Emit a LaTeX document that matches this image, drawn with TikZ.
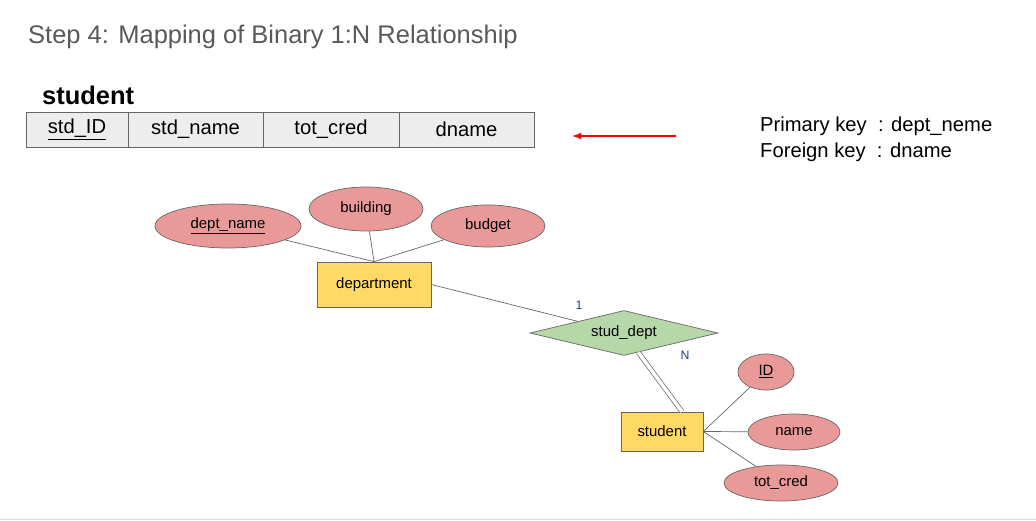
\documentclass[tikz,border=0pt]{standalone}
\usepackage{fontspec}
\setmainfont{Liberation Sans}
\usetikzlibrary{shapes.geometric}
\definecolor{attr}{HTML}{EA9999}
\definecolor{ent}{HTML}{FFD966}
\definecolor{rel}{HTML}{B6D7A8}
\definecolor{edge}{HTML}{666666}
\definecolor{card}{HTML}{1F3A93}
\begin{document}
\begin{tikzpicture}[x=0.02cm,y=-0.02cm,
    attrib/.style={ellipse,draw=edge,fill=attr,inner sep=0pt,font=\fontsize{8.5}{10}\selectfont},
    entity/.style={rectangle,draw=edge,fill=ent,inner sep=0pt,font=\fontsize{8.5}{10}\selectfont},
    relation/.style={diamond,draw=edge,fill=rel,inner sep=0pt,aspect=4.2,font=\fontsize{8.5}{10}\selectfont},
    cell/.style={rectangle,draw=edge,fill=black!7,inner sep=0pt,minimum height=35*0.02cm,font=\fontsize{11.5}{13}\selectfont},
    link/.style={draw=edge}]
\useasboundingbox (0,0) rectangle (1036,521);
\draw[black!15] (0,519) -- (1036,519);
\node[anchor=west,text=black!65,font=\fontsize{14.5}{16}\selectfont] (title) at (22,37) {Step 4: Mapping of Binary 1:N Relationship};
% relation table
\node[anchor=west,font=\bfseries\fontsize{14.5}{16}\selectfont] (tname) at (36,95) {student};
\node[cell,minimum width=102*0.02cm] (c1) at (77,129.5) {\underline{std\_ID}};
\node[cell,minimum width=135*0.02cm] (c2) at (195.5,129.5) {std\_name};
\node[cell,minimum width=136*0.02cm] (c3) at (331,129.5) {tot\_cred};
\node[cell,minimum width=135*0.02cm] (c4) at (466.5,129.5) {dname};
\coordinate (tail) at (676,136);
\coordinate (tip) at (572,136);
\draw[red,thick,-latex] (tail) -- (tip);
\node[anchor=west,align=left,font=\fontsize{11.5}{14.8}\selectfont] (keys) at (754,139) {Primary key\ \ : dept\_neme\\Foreign key\ \ : dname};
% ER diagram
\node[attrib,minimum width=146*0.02cm,minimum height=44*0.02cm] (dname) at (228,226) {\underline{dept\_name}};
\node[attrib,minimum width=114*0.02cm,minimum height=44*0.02cm] (bld) at (366,209) {building};
\node[attrib,minimum width=114*0.02cm,minimum height=42*0.02cm] (bud) at (488,226) {budget};
\node[entity,minimum width=114*0.02cm,minimum height=45*0.02cm] (dept) at (374,284.5) {department};
\node[relation,minimum width=188*0.02cm,minimum height=45*0.02cm] (sd) at (624,333) {stud\_dept};
\node[entity,minimum width=82*0.02cm,minimum height=39*0.02cm] (stud) at (662,431.5) {student};
\node[attrib,minimum width=56*0.02cm,minimum height=36*0.02cm] (id) at (766,372) {\underline{ID}};
\node[attrib,minimum width=92*0.02cm,minimum height=36*0.02cm] (nm) at (794,432) {name};
\node[attrib,minimum width=114*0.02cm,minimum height=36*0.02cm] (tc) at (781,483) {tot\_cred};
\draw[link] (dname) -- (dept.north);
\draw[link] (bld) -- (dept.north);
\draw[link] (bud) -- (dept.north);
\draw[link] (dept.east) -- (sd);
\draw[link,double,double distance=2pt] (sd) -- ([xshift=0.4cm]stud.north);
\draw[link] (stud.east) -- (id);
\draw[link] (stud.east) -- (nm);
\draw[link] (stud.east) -- (tc);
\node[text=card,font=\fontsize{7}{8}\selectfont] (one) at (579,305) {1};
\node[text=card,font=\fontsize{7}{8}\selectfont] (many) at (685,355) {N};
\end{tikzpicture}
\end{document}
